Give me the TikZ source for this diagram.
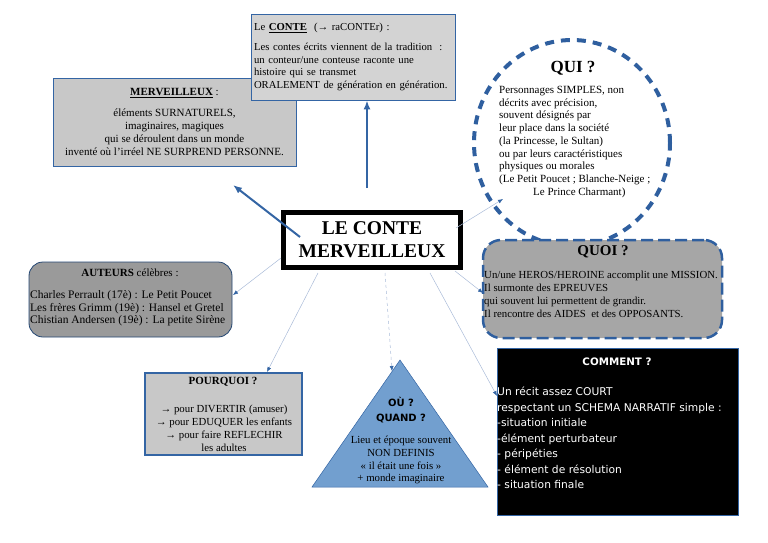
\documentclass[tikz,border=0pt]{standalone}
\usepackage{fontspec}
\setmainfont{Liberation Serif}
\newfontfamily\comicfont{DejaVu Sans}
\usetikzlibrary{shapes.geometric,arrows.meta,positioning,calc}
\definecolor{boxblue}{HTML}{3465A4}
\definecolor{dashblue}{HTML}{2F5F9F}
\definecolor{linkblue}{HTML}{A9BBD8}
\definecolor{lightgrey}{HTML}{D3D3D3}
\definecolor{midgrey}{HTML}{C8C8C8}
\definecolor{darkgrey}{HTML}{A6A6A6}
\definecolor{autgrey}{HTML}{9A9A9A}
\definecolor{triblue}{HTML}{729FCF}

\begin{document}
\begin{tikzpicture}[x=1pt,y=-1pt,
    greybox/.style={draw=boxblue, line width=0.8pt, inner sep=2pt},
    link/.style={draw=linkblue, line width=0.5pt, -{Latex[length=5pt,width=4pt,color=boxblue]}},
    bigarrow/.style={draw=boxblue, line width=2pt, -{Latex[length=9pt,width=7pt]}},
    txt/.style={font=\fontsize{10.7}{12.8}\selectfont}]
    \useasboundingbox (0,0) rectangle (768,543);

    % Merveilleux
    \node [greybox, fill=midgrey, minimum width=243pt, minimum height=88pt, align=center,
        font=\fontsize{11}{12.9}\selectfont] (merv) at (174.5,122)
        {\underline{\textbf{MERVEILLEUX}} :\\[8pt]
         éléments SURNATURELS,\\ imaginaires, magiques\\ qui se déroulent dans un monde\\
         inventé où l'irréel NE SURPREND PERSONNE.};

    % Conte
    \node [greybox, fill=lightgrey, minimum width=204pt, minimum height=86pt, text width=198pt, align=left, txt] (def) at (353,57)
        {Le \underline{\textbf{CONTE}}\ \ (→ raCONTEr) :\\[7pt]
         Les contes écrits viennent de la tradition\ \ :\\ un conteur/une conteuse raconte une\\
         histoire qui se transmet\\ ORALEMENT de génération en génération.};

    % Centre
    \node [draw, line width=5pt, minimum width=177pt, minimum height=55pt, align=center,
        font=\bfseries\fontsize{19.5}{23}\selectfont] (conte) at (372,240) {LE CONTE\\MERVEILLEUX};

    % Qui
    \node [ellipse, draw=dashblue, line width=4pt, dash pattern=on 9pt off 7pt, minimum width=196pt, minimum height=206pt] (qui) at (572,143) {};
    \node [font=\bfseries\fontsize{17}{20}\selectfont] (quititle) at (573,68) {QUI ?};
    \node [anchor=north west, align=left, inner sep=0pt, font=\fontsize{11}{12.75}\selectfont] (quitxt) at (499,86)
        {Personnages SIMPLES, non\\ décrits avec précision,\\ souvent désignés par\\ leur place dans la société\\
         (la Princesse, le Sultan)\\ ou par leurs caractéristiques\\ physiques ou morales\\
         (Le Petit Poucet ; Blanche-Neige ;\\ \hspace*{34pt}Le Prince Charmant)};

    % Quoi
    \node [draw=dashblue, fill=darkgrey, line width=2.5pt, dash pattern=on 12pt off 5pt, rounded corners=18pt,
        minimum width=239pt, minimum height=98pt] (quoi) at (602.5,289) {};
    \node [font=\bfseries\fontsize{15}{18}\selectfont] (quoititle) at (603,252) {QUOI ?};
    \node [anchor=north west, align=left, inner sep=0pt, font=\fontsize{10.8}{12.9}\selectfont] (quoitxt) at (484,271)
        {Un/une HEROS/HEROINE accomplit une MISSION.\\ Il surmonte des EPREUVES\\
         qui souvent lui permettent de grandir.\\ Il rencontre des AIDES\ \ et des OPPOSANTS.};

    % Auteurs
    \node [draw=boxblue!70!black, fill=autgrey, line width=0.8pt, rounded corners=14pt,
        minimum width=203pt, minimum height=75pt] (aut) at (130.5,299.5) {};
    \node [font=\fontsize{11}{13}\selectfont] (auttitle) at (130,273) {\textbf{AUTEURS} célèbres :};
    \node [anchor=north west, align=left, inner sep=0pt, font=\fontsize{11.5}{12.9}\selectfont] (auttxt) at (30,290)
        {Charles Perrault (17è) : Le Petit Poucet\\ Les frères Grimm (19è) : Hansel et Gretel\\
         Chistian Andersen (19è) : La petite Sirène};

    % Pourquoi
    \node [draw=boxblue, fill=midgrey, line width=2pt, minimum width=157pt, minimum height=82pt] (pq) at (223.5,414) {};
    \node [font=\bfseries\fontsize{11}{13}\selectfont] (pqtitle) at (223,382) {POURQUOI ?};
    \node [align=center, font=\fontsize{10.8}{12.9}\selectfont] (pqtxt) at (224,428)
        {→ pour DIVERTIR (amuser)\\ → pour EDUQUER les enfants\\ → pour faire REFLECHIR\\ les adultes};

    % Ou / quand
    \coordinate (ou) at (400,360);
    \draw [draw=boxblue, fill=triblue, line width=0.5pt] (ou) -- (488,487) -- (312,487) -- cycle;
    \node [align=center, font=\comicfont\bfseries\fontsize{10}{15}\selectfont] (outitle) at (401,410) {OÙ ?\\QUAND ?};
    \node [align=center, font=\fontsize{10.8}{12.9}\selectfont] (outxt) at (401,460)
        {Lieu et époque souvent\\ NON DEFINIS\\ « il était une fois »\\ + monde imaginaire};

    % Comment
    \node [draw=boxblue, fill=black, line width=0.8pt, minimum width=241pt, minimum height=167pt] (com) at (617.5,431.5) {};
    \node [text=white, font=\comicfont\bfseries\fontsize{10.3}{12}\selectfont] (comtitle) at (617,362) {COMMENT ?};
    \node [anchor=north west, align=left, inner sep=0pt, text=white, font=\comicfont\fontsize{10.7}{15.5}\selectfont] (comtxt) at (497,387)
        {Un récit assez COURT\\ respectant un SCHEMA NARRATIF simple :\\ -situation initiale\\
         -élément perturbateur\\ - péripéties\\ - élément de résolution\\ - situation finale};

    % Big arrows
    \coordinate (mervend) at (233,185);
    \draw [bigarrow] ($(conte.west)+(19,-3)$) -- (mervend);
    \draw [bigarrow] ($(conte.north)+(-5,-22)$) -- (def.south -| 367,0);

    % Thin links
    \coordinate (quiend) at (503,199);
    \coordinate (quoiend) at (483,293);
    \coordinate (autend) at (233,295);
    \coordinate (pqend) at (267,372);
    \coordinate (ouend) at (392,371);
    \coordinate (comend) at (497,396);
    \draw [link] ($(conte.north east)+(-7,18)$) -- (quiend);
    \draw [link] ($(conte.south east)+(-8,1)$) -- (quoiend);
    \draw [link] ($(conte.south west)+(0,-12)$) -- (autend);
    \draw [link] ($(conte.south west)+(37,3)$) -- (pqend);
    \draw [link, dashed] ($(conte.south)+(13,3)$) -- (ouend);
    \draw [link] ($(conte.south east)+(-33,3)$) -- (comend);
\end{tikzpicture}
\end{document}
